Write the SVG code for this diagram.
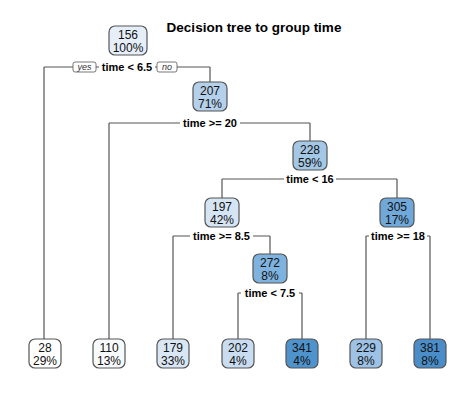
<svg xmlns="http://www.w3.org/2000/svg" width="474" height="393" viewBox="0 0 474 393">
<style>
.bg{fill:#fff}
.node rect{stroke:#555;stroke-width:1.2}
.node text{font-family:"Liberation Sans",Arial,sans-serif;font-size:12px;fill:#111;text-anchor:middle}
.edges line{stroke:#555;stroke-width:1.2}
.lab{font-family:"Liberation Sans",Arial,sans-serif;font-size:11px;font-weight:bold;fill:#000;text-anchor:middle}
.lbg{fill:#fff}
.yn rect{fill:#fff;stroke:#555;stroke-width:0.8}
.yn text{font-family:"Liberation Sans",Arial,sans-serif;font-size:9px;font-style:italic;fill:#333;text-anchor:middle}
.title{font-family:"Liberation Sans",Arial,sans-serif;font-size:13.5px;font-weight:bold;fill:#000;text-anchor:middle}
</style>
<rect class="bg" width="474" height="393"/>
<text class="title" x="254" y="32">Decision tree to group time</text>
<g class="edges">
<line x1="44" y1="67" x2="210" y2="67"/>
<line x1="44" y1="67" x2="44" y2="339"/>
<line x1="210" y1="67" x2="210" y2="82"/>
<line x1="109" y1="123" x2="310" y2="123"/>
<line x1="109" y1="123" x2="109" y2="339"/>
<line x1="310" y1="123" x2="310" y2="141"/>
<line x1="222" y1="179" x2="397" y2="179"/>
<line x1="222" y1="179" x2="222" y2="198"/>
<line x1="397" y1="179" x2="397" y2="198"/>
<line x1="173" y1="236" x2="270" y2="236"/>
<line x1="173" y1="236" x2="173" y2="339"/>
<line x1="270" y1="236" x2="270" y2="254"/>
<line x1="366" y1="236" x2="430" y2="236"/>
<line x1="366" y1="236" x2="366" y2="339"/>
<line x1="430" y1="236" x2="430" y2="339"/>
<line x1="238" y1="293" x2="302" y2="293"/>
<line x1="238" y1="293" x2="238" y2="339"/>
<line x1="302" y1="293" x2="302" y2="339"/>
</g>
<g id="labels">
<rect class="lbg" x="99" y="61" width="56" height="12"/>
<text class="lab" x="127" y="71">time &lt; 6.5</text>
<g class="yn">
<rect x="73" y="62" width="23" height="10" rx="2"/>
<text x="84.5" y="70">yes</text>
<rect x="157" y="62" width="20" height="10" rx="2"/>
<text x="167" y="70">no</text>
</g>
<rect class="lbg" x="180" y="117" width="60" height="12"/>
<text class="lab" x="210" y="127">time &gt;= 20</text>
<rect class="lbg" x="284" y="173" width="52" height="12"/>
<text class="lab" x="310" y="183">time &lt; 16</text>
<rect class="lbg" x="190" y="230" width="63" height="12"/>
<text class="lab" x="221.5" y="240">time &gt;= 8.5</text>
<rect class="lbg" x="369" y="230" width="58" height="12"/>
<text class="lab" x="398" y="240">time &gt;= 18</text>
<rect class="lbg" x="241" y="287" width="58" height="12"/>
<text class="lab" x="270" y="297">time &lt; 7.5</text>
</g>
<g id="n1" class="node"><rect x="109" y="26" width="38" height="29" rx="6" fill="#E6EFF9"/><text x="128" y="39">156</text><text x="128" y="52">100%</text></g>
<g id="n3" class="node"><rect x="193" y="82" width="34" height="29" rx="6" fill="#B5D0EA"/><text x="210" y="95">207</text><text x="210" y="108">71%</text></g>
<g id="n7" class="node"><rect x="293" y="141" width="34" height="29" rx="6" fill="#A4C7E6"/><text x="310" y="154">228</text><text x="310" y="167">59%</text></g>
<g id="n14" class="node"><rect x="205" y="198" width="34" height="29" rx="6" fill="#D6E5F4"/><text x="222" y="211">197</text><text x="222" y="224">42%</text></g>
<g id="n15" class="node"><rect x="380" y="198" width="34" height="29" rx="6" fill="#6FA8D9"/><text x="397" y="211">305</text><text x="397" y="224">17%</text></g>
<g id="n29" class="node"><rect x="253" y="254" width="34" height="29" rx="6" fill="#7FB3DF"/><text x="270" y="267">272</text><text x="270" y="280">8%</text></g>
<g id="n2" class="node"><rect x="29" y="339" width="32" height="29" rx="6" fill="#FFFFFF"/><text x="45" y="352">28</text><text x="45" y="365">29%</text></g>
<g id="n6" class="node"><rect x="93" y="339" width="32" height="29" rx="6" fill="#F7FAFD"/><text x="109" y="352">110</text><text x="109" y="365">13%</text></g>
<g id="n28" class="node"><rect x="157" y="339" width="32" height="29" rx="6" fill="#D9E7F5"/><text x="173" y="352">179</text><text x="173" y="365">33%</text></g>
<g id="n58" class="node"><rect x="222" y="339" width="32" height="29" rx="6" fill="#C9DCF0"/><text x="238" y="352">202</text><text x="238" y="365">4%</text></g>
<g id="n59" class="node"><rect x="286" y="339" width="32" height="29" rx="6" fill="#4F93CC"/><text x="302" y="352">341</text><text x="302" y="365">4%</text></g>
<g id="n30" class="node"><rect x="350" y="339" width="32" height="29" rx="6" fill="#9DC2E5"/><text x="366" y="352">229</text><text x="366" y="365">8%</text></g>
<g id="n31" class="node"><rect x="414" y="339" width="32" height="29" rx="6" fill="#4A8DC8"/><text x="430" y="352">381</text><text x="430" y="365">8%</text></g>
</svg>
